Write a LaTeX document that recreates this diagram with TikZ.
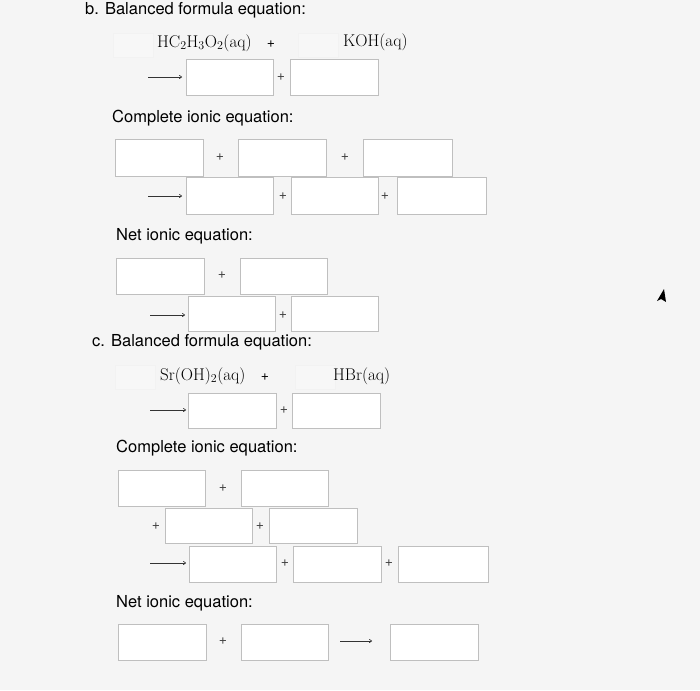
\documentclass[tikz,border=0pt]{standalone}
\usepackage{fontspec}
\setsansfont{TeX Gyre Heros}
\usetikzlibrary{arrows.meta}
\begin{document}
\begin{tikzpicture}[x=1pt,y=-1pt,
  box/.style={draw=black!25,fill=white,line width=0.8pt},
  faint/.style={draw=black!5,fill=white!97!black,line width=0.5pt},
  lbl/.style={anchor=west,inner sep=0pt,font=\sffamily\fontsize{16.5}{19}\selectfont},
  chem/.style={anchor=west,inner sep=0pt,font=\fontsize{17}{20}\selectfont},
  pl/.style={inner sep=0pt,font=\sffamily\fontsize{14}{16}\selectfont,text=black!75},
  yld/.style={-{To[length=3pt,width=4pt]},line width=0.6pt,black!80}]
\fill[black!4] (0,0) rectangle (700,690);
\useasboundingbox (0,0) rectangle (700,690);
% b
\node[lbl] (bt) at (85,10) {b. Balanced formula equation:};
\draw[faint] (113,33) rectangle (153,57);
\draw[faint] (298,33) rectangle (338,57);
\node[chem] (r1) at (157,43) {HC$_2$H$_3$O$_2$(aq)\ \ \ {\sffamily\fontsize{14}{16}\selectfont +}};
\node[chem] (r2) at (343,42) {KOH(aq)};
\coordinate (a1s) at (148,77); \coordinate (a1e) at (182,77);
\draw[yld] (a1s) -- (a1e);
\draw[box] (186,59) rectangle (273,95);
\node[pl] (p1) at (281,77) {+};
\draw[box] (290,59) rectangle (378,95);
\node[lbl] (ci1) at (112,118) {Complete ionic equation:};
\draw[box] (115,139) rectangle (203,176);
\node[pl] at (220,157) {+};
\draw[box] (238,139) rectangle (326,176);
\node[pl] at (345,157) {+};
\draw[box] (363,139) rectangle (452,176);
\coordinate (a2s) at (148,196); \coordinate (a2e) at (182,196);
\draw[yld] (a2s) -- (a2e);
\draw[box] (186,177) rectangle (273,214);
\node[pl] at (283,196) {+};
\draw[box] (291,177) rectangle (378,214);
\node[pl] at (385,196) {+};
\draw[box] (397,177) rectangle (486,214);
\node[lbl] (ni1) at (116,236) {Net ionic equation:};
\draw[box] (116,258) rectangle (204,294);
\node[pl] at (222,275) {+};
\draw[box] (240,258) rectangle (327,294);
\coordinate (a3s) at (150,315); \coordinate (a3e) at (185,315);
\draw[yld] (a3s) -- (a3e);
\draw[box] (188,296) rectangle (275,331);
\node[pl] at (283,315) {+};
\draw[box] (291,296) rectangle (378,331);
% c
\node[lbl] (ct) at (92,342) {c. Balanced formula equation:};
\draw[faint] (115,365) rectangle (155,389);
\draw[faint] (295,365) rectangle (335,389);
\node[chem] (s1) at (160,376) {Sr(OH)$_2$(aq)\ \ \ {\sffamily\fontsize{14}{16}\selectfont +}};
\node[chem] (s2) at (333,376) {HBr(aq)};
\coordinate (a4s) at (150,410); \coordinate (a4e) at (186,410);
\draw[yld] (a4s) -- (a4e);
\draw[box] (188,393) rectangle (276,428);
\node[pl] at (284,410) {+};
\draw[box] (292,393) rectangle (380,428);
\node[lbl] (ci2) at (116,448) {Complete ionic equation:};
\draw[box] (118,470) rectangle (205,506);
\node[pl] at (223,488) {+};
\draw[box] (241,470) rectangle (328,506);
\node[pl] at (156,526) {+};
\draw[box] (165,508) rectangle (252,543);
\node[pl] at (260,526) {+};
\draw[box] (269,508) rectangle (357,543);
\coordinate (a5s) at (150,563); \coordinate (a5e) at (186,563);
\draw[yld] (a5s) -- (a5e);
\draw[box] (189,546) rectangle (276,582);
\node[pl] at (285,563) {+};
\draw[box] (293,546) rectangle (381,582);
\node[pl] at (389,563) {+};
\draw[box] (398,546) rectangle (488,582);
\node[lbl] (ni2) at (116,603) {Net ionic equation:};
\draw[box] (118,624) rectangle (206,660);
\node[pl] at (223,641) {+};
\draw[box] (241,624) rectangle (328,660);
\coordinate (a6s) at (340,641); \coordinate (a6e) at (372,641);
\draw[yld] (a6s) -- (a6e);
\draw[box] (390,624) rectangle (478,660);
% cursor
\fill[black] (664,289) -- (657,301) -- (661,299) -- (666,302) -- cycle;
\end{tikzpicture}
\end{document}
